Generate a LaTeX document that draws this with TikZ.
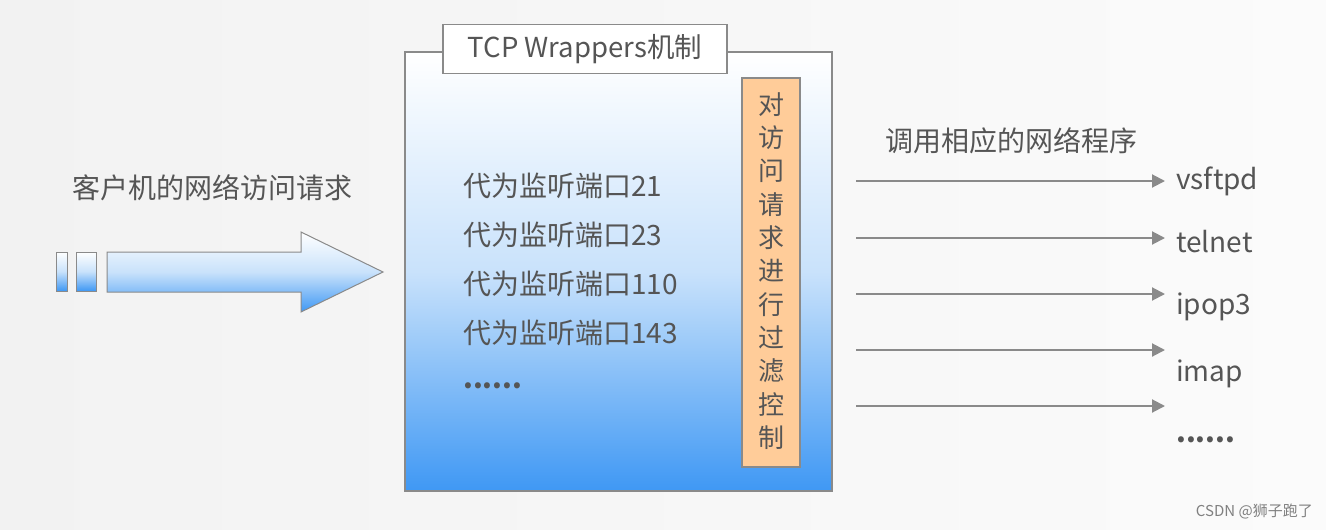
\documentclass[tikz,border=0pt]{standalone}
\usepackage{fontspec}
\setmainfont{Noto Sans CJK SC}
\usetikzlibrary{arrows.meta}
\definecolor{bgl}{HTML}{F2F2F2}
\definecolor{bgr}{HTML}{FBFBFB}
\definecolor{txt}{HTML}{555555}
\definecolor{edge}{HTML}{8A8A8A}
\definecolor{blueb}{HTML}{3F98F4}
\definecolor{bluem}{HTML}{C9E2FB}
\definecolor{peach}{HTML}{FFCC99}
\tikzset{
  big/.style={font=\fontsize{28}{32}\selectfont, text=txt, inner sep=0pt},
  vert/.style={font=\fontsize{26}{33.3}\selectfont, text=txt, align=center, inner sep=0pt},
  callarrow/.style={draw=edge, line width=2pt, -{Triangle[length=13pt,width=13pt]}},
  bluegrad/.style={top color=white, bottom color=blueb, middle color=bluem, draw=edge, line width=1.2pt},
}
\begin{document}
\begin{tikzpicture}[x=1pt,y=-1pt]
\useasboundingbox (0,0) rectangle (1326,530);
\shade[left color=bgl, right color=bgr] (0,0) rectangle (1326,530);
% main box
\path[bluegrad] (405,52) rectangle (832,491);
\node[draw=edge, line width=1.2pt, fill=white, minimum width=284pt, minimum height=49pt, inner sep=0pt, font=\fontsize{27.5}{30}\selectfont, text=txt] (title) at (585,49) {TCP Wrappers机制};
% filter box
\node[draw=edge, line width=1.2pt, fill=peach, minimum width=58pt, minimum height=389pt, inner sep=0pt] (filter) at (771,272.5) {};
\node[vert] (filtertext) at (771,271) {对\\访\\问\\请\\求\\进\\行\\过\\滤\\控\\制};
% port list
\node[big, anchor=west] (p21) at (463,186) {代为监听端口21};
\node[big, anchor=west] (p23) at (463,235) {代为监听端口23};
\node[big, anchor=west] (p110) at (463,284) {代为监听端口110};
\node[big, anchor=west] (p143) at (463,333) {代为监听端口143};
\node[big, anchor=west] (pdots) at (463,386) {\textbf{......}};
% left side
\node[big] (client) at (212,188) {客户机的网络访问请求};
\path[bluegrad, line width=1pt] (56,252) rectangle (67,291);
\path[bluegrad, line width=1pt] (76,252) rectangle (96,291);
\path[bluegrad, line width=1pt] (107,252) -- (301,252) -- (301,232) -- (383,272) -- (301,312) -- (301,292) -- (107,292) -- cycle;
% right side
\node[big] (call) at (1011,141) {调用相应的网络程序};
\foreach \i/\yy in {1/181,2/238,3/294,4/350,5/406}{
  \coordinate (s\i) at (856,\yy);
  \coordinate (e\i) at (1165,\yy);
  \draw[callarrow] (s\i) -- (e\i);
}
\node[big, anchor=west] (vsftpd) at (1176,181) {vsftpd};
\node[big, anchor=west] (telnet) at (1176,242) {telnet};
\node[big, anchor=west] (ipop3) at (1176,307) {ipop3};
\node[big, anchor=west] (imap) at (1176,374) {imap};
\node[big, anchor=west] (rdots) at (1176,440) {\textbf{......}};
% watermark
\node[font=\fontsize{15}{18}\selectfont, text=gray, anchor=east, inner sep=0pt] (wm) at (1313,512) {CSDN @狮子跑了};
\end{tikzpicture}
\end{document}
